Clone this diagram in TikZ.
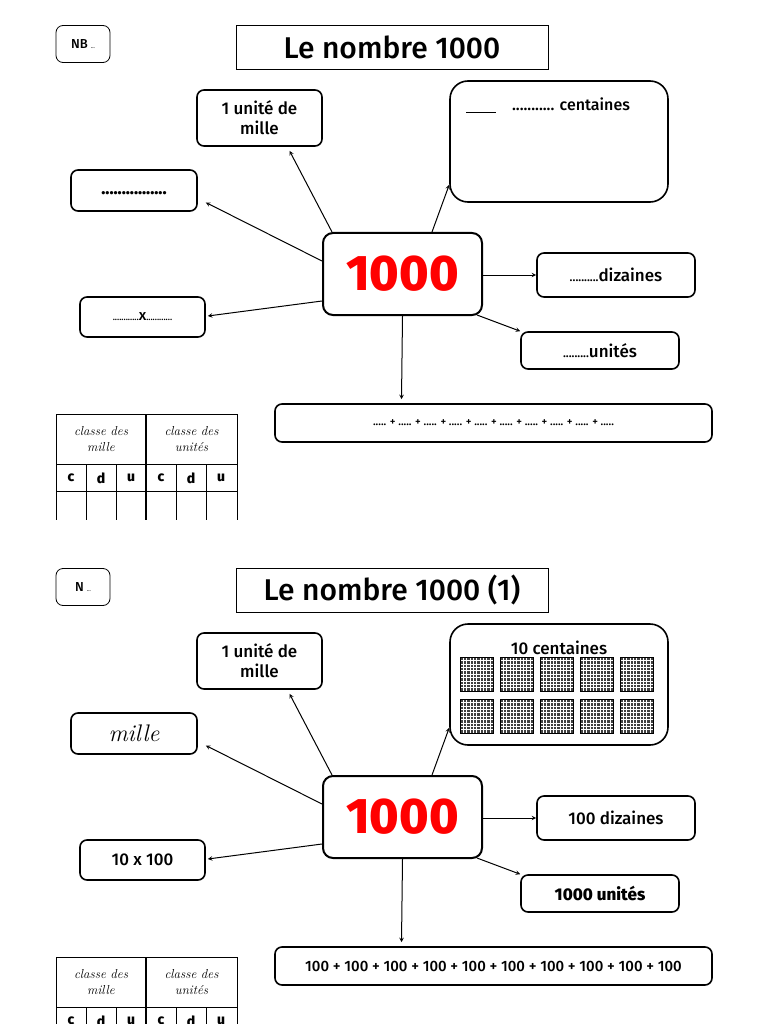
\documentclass[tikz,border=0pt]{standalone}
\usepackage{fontspec}
\setmainfont{Fira Sans}[UprightFont={* Medium}]
\newfontfamily\cursf{Latin Modern Roman}
\usetikzlibrary{calc}
\begin{document}
\begin{tikzpicture}[x=1pt,y=-1pt,
  box/.style={draw,line width=1.6pt,rounded corners=7pt,inner sep=0pt,align=center,font=\fontsize{17}{20}\selectfont},
  arr/.style={->,line width=1pt,>=stealth},
  tl/.style={line width=0.9pt}]
\useasboundingbox (0,0) rectangle (768,1024);
\newcommand\fiche[9]{%
  \node[box,line width=0.8pt,minimum width=54pt,minimum height=37pt,font=\fontsize{13}{15}\selectfont] (nb) at (83,44) {#1};
  \node[draw,line width=0.8pt,minimum width=312pt,minimum height=44pt,font=\fontsize{30}{34}\selectfont] (t) at (392,47) {#2};
  \node[box,minimum width=125pt,minimum height=56pt] (u) at (259.5,118) {1 unité de\\mille};
  \node[box,rounded corners=18pt,minimum width=218pt,minimum height=121pt] (cent) at (559,141.5) {};
  #3
  \node[box,minimum width=126pt,minimum height=41pt] (dots) at (134,190.5) {#4};
  \node[box,line width=2pt,rounded corners=10pt,minimum width=159pt,minimum height=82pt,text=red,font=\bfseries\fontsize{50}{54}\selectfont] (c) at (402.5,274) {1000};
  \node[box,minimum width=158pt,minimum height=44pt] (diz) at (616,275) {#5};
  \node[box,minimum width=125pt,minimum height=40pt] (x) at (142.5,317) {#6};
  \node[box,minimum width=158pt,minimum height=37pt] (un) at (600,350.5) {#7};
  \node[box,minimum width=437pt,minimum height=38pt] (sum) at (493.5,423) {#8};
  \draw[arr] ($(c.north west)+(10,0)$) -- ($(u.south)+(30,4)$);
  \draw[arr] ($(c.north west)+(0,29)$) -- ($(dots.east)+(8,12)$);
  \draw[arr] ($(c.south west)+(0,-15)$) -- ($(x.east)+(2,-1)$);
  \draw[arr] (c.east|-diz.west) -- (diz.west);
  \draw[arr] ($(c.south east)+(-6,-1)$) -- (un.north west);
  \draw[arr] (c.south) -- ($(sum.north)+(-92,-4)$);
  \draw[arr] ($(c.north west)+(110,0)$) -- ($(cent.south west)+(0,-18)$);
  % table
  \foreach \xx in {56,86,116,176,206,237} \draw[tl] (\xx,464) -- (\xx,#9);
  \draw[tl] (56,414) -- (56,464) (237,414)--(237,464);
  \draw[line width=1.8pt] (146,414) -- (146,#9);
  \draw[tl] (56,414) -- (237,414) (56,464) -- (237,464) (56,491) -- (237,491);
  \node[align=center,font=\cursf\itshape\fontsize{13}{16}\selectfont] (cm) at (101,439) {classe des\\mille};
  \node[align=center,font=\cursf\itshape\fontsize{13}{16}\selectfont] (cu) at (191.5,439) {classe des\\unités};
  \foreach \xx/\l in {71/c,101/d,131/u,161/c,191/d,221/u}
    \node[font=\bfseries\fontsize{14}{16}\selectfont] at (\xx,478) {\l};
}
\fiche{NB \tiny ...}{Le nombre 1000}{%
  \node[font=\fontsize{16}{19}\selectfont] (ct) at (548,105) {\underline{\hspace{30pt}}\quad ........... centaines};}%
  {\raisebox{-8pt}{\bfseries ................}}{\fontsize{12}{14}\selectfont..........\fontsize{17}{20}\selectfont dizaines}%
  {\fontsize{9}{11}\selectfont ............\fontsize{15}{17}\selectfont x\fontsize{9}{11}\selectfont............}%
  {\fontsize{12}{14}\selectfont.........\fontsize{17}{20}\selectfont unités}%
  {\fontsize{11}{13}\selectfont ..... + ..... + ..... + ..... + ..... + ..... + ..... + ..... + ..... + .....}{520}
\begin{scope}[shift={(0,543)},name prefix=b-]
\fiche{N \tiny ...}{Le nombre 1000 (1)}{%
  \node[font=\fontsize{17}{20}\selectfont] (ct) at (559,105) {10 centaines};
  \foreach \i in {0,...,4} \foreach \j in {0,1} {
    \fill[black!75] (460+40*\i,114+42*\j) rectangle ++(33,34);
    \foreach \k in {1,...,9} \draw[white,line width=0.3pt] (460+40*\i+3.3*\k,114+42*\j) -- ++(0,34) (460+40*\i,114+42*\j+3.4*\k) -- ++(33,0);
    \draw[black,line width=0.8pt] (460+40*\i,114+42*\j) rectangle ++(33,34);
  }}%
  {\cursf\itshape\fontsize{24}{26}\selectfont mille}{100 dizaines}{10 x 100}{\bfseries 1000 unités}%
  {\fontsize{15}{17}\selectfont 100 + 100 + 100 + 100 + 100 + 100 + 100 + 100 + 100 + 100}{520}
\end{scope}
\end{tikzpicture}
\end{document}
